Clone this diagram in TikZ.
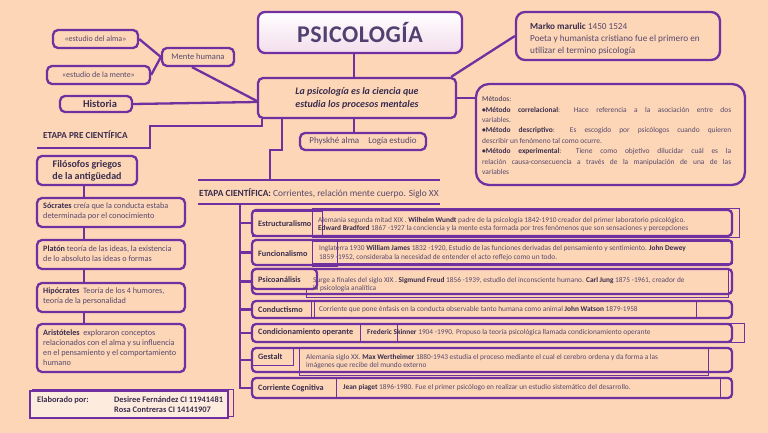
\documentclass[tikz,border=0pt]{standalone}
\usepackage{fontspec}
\setmainfont{Carlito}
\usetikzlibrary{calc}
\definecolor{bg}{RGB}{252,214,183}
\definecolor{pur}{RGB}{112,48,160}
\definecolor{txt}{RGB}{88,72,108}
\definecolor{dk}{RGB}{58,44,78}
\definecolor{ttl}{RGB}{82,64,112}
\definecolor{tfill}{RGB}{243,221,236}
\definecolor{efill}{RGB}{253,236,222}
\newcommand{\fsz}[2]{\fontsize{#1}{#2}\selectfont}
\newcommand{\bn}[1]{\textbf{\color{dk}#1}}
\newcommand{\jl}[1]{\makebox[249pt][s]{#1}}
\tikzset{
 box/.style={draw=pur, line width=2.3pt, rounded corners=5pt, fill=bg, inner sep=0pt, text=txt},
 conn/.style={draw=pur, line width=2.3pt},
 thinbox/.style={draw=pur, line width=0.9pt},
 lbl/.style={anchor=west, inner sep=0pt, text=txt, align=left},
 ctr/.style={inner sep=0pt, text=txt, align=center},
 rowbox/.style={box, rounded corners=4pt, minimum width=480pt},
 rowlbl/.style={lbl, font=\fsz{8.2}{9}\bfseries, text=dk},
 rowtxt/.style={lbl, font=\fsz{7.35}{8.7}},
 coltxt/.style={lbl, font=\fsz{8.2}{10}},
}
\begin{document}
\begin{tikzpicture}[x=1pt,y=-1pt]
\fill[bg] (0,0) rectangle (768,433);
\useasboundingbox (0,0) rectangle (768,433);

% ---------- top-left ----------
\node[box, minimum width=85pt, minimum height=18pt] (alma) at (95.5,39) {};
\node[ctr, font=\fsz{8}{9}] (almat) at (alma.center) {«estudio del alma»};
\node[box, minimum width=103pt, minimum height=18pt] (mente2) at (98.5,75) {};
\node[ctr, font=\fsz{8}{9}] (mente2t) at (mente2.center) {«estudio de la mente»};
\node[box, minimum width=72pt, minimum height=18pt] (mente) at (198,57) {};
\node[ctr, font=\fsz{8.5}{10}] (mentet) at (mente.center) {Mente humana};
\node[box, minimum width=72pt, minimum height=16pt] (hist) at (96,104) {};
\node[ctr, font=\fsz{10.5}{12}\bfseries, text=dk] (histt) at ([xshift=4pt]hist.center) {Historia};
\node[lbl, font=\fsz{9.2}{10}\bfseries, text=dk] (pre) at (43,135) {ETAPA PRE CIENTÍFICA};

% ---------- centre ----------
\node[box, rounded corners=7pt, top color=white, bottom color=tfill, minimum width=204pt, minimum height=41pt] (title) at (360,32.5) {};
\node[ctr, font=\fsz{24}{28}\bfseries\addfontfeatures{LetterSpace=2}, text=ttl] (titlet) at (title.center) {PSICOLOGÍA};
\node[box, minimum width=198pt, minimum height=40pt] (central) at (357,98) {};
\node[ctr, font=\fsz{10}{13}\bfseries\itshape, text=dk] (centraltxt) at (central.center) {La psicología es la ciencia que\\estudia los procesos mentales};
\node[box, minimum width=126pt, minimum height=17pt] (phys) at (363,141.5) {};
\node[ctr, font=\fsz{9}{10}] (physt) at (phys.center) {Physkhé alma\quad Logía estudio};

% ---------- right ----------
\node[box, rounded corners=9pt, minimum width=204pt, minimum height=48pt] (marko) at (618,36) {};
\node[lbl, font=\fsz{9.2}{12}] (markot) at (530,39) {\bn{Marko marulic} 1450 1524\\Poeta y humanista cristiano fue el primero en\\utilizar el termino psicología};
\node[box, rounded corners=13pt, minimum width=269pt, minimum height=101pt] (met) at (610.5,134.5) {};
\node[lbl, font=\fsz{7.45}{10.4}] (mett) at (482,135.5) {{\color{dk}Métodos}:\\
\jl{\bn{•Método correlacional}: Hace referencia a la asociación entre dos}\\
variables.\\
\jl{\bn{•Método descriptivo}: Es escogido por psicólogos cuando quieren}\\
describir un fenómeno tal como ocurre.\\
\jl{\bn{•Método experimental}: Tiene como objetivo dilucidar cuál es la}\\
\jl{relación causa-consecuencia a través de la manipulación de una de las}\\
variables};

% ---------- connectors top ----------
\draw[conn] (alma.east) -- (mente.west);
\draw[conn] (mente2.east) -- (mente.west);
\draw[conn] ([xshift=-6pt]mente.south) -- ([yshift=-3pt]central.west);
\draw[conn] (hist.east) -- ([yshift=-4pt]central.west);
\draw[conn] ([xshift=-3pt]central.north) -- ([xshift=-3pt]central.north |- title.south);
\draw[conn] ([xshift=-3pt]central.south) -- ([xshift=-3pt]central.south |- phys.north);
\draw[conn] ([xshift=-6pt]central.north east) -- (marko.west);
\draw[conn] (central.east) -- (central.east -| met.west);

\coordinate (prejoin) at (150,126);
\coordinate (preend) at (37,148);
\draw[conn] ([xshift=5pt]central.south west) |- (prejoin) |- (preend);

\coordinate (cj) at (270,150);
\coordinate (cend) at (198,180);
\coordinate (cfar) at (440,180);
\draw[conn] ([xshift=25pt]central.south west) |- (cj) -- (cj |- cend);
\draw[conn] (cend) -- (cfar);
\node[lbl, font=\fsz{9.4}{10}] (cient) at (199,193) {\textbf{\color{dk}ETAPA CIENTÍFICA:} Corrientes, relación mente cuerpo. Siglo XX};
\coordinate (u1) at (198,204);
\coordinate (u2) at (440,204);
\draw[conn] (u1) -- (u2);
\coordinate (trunk) at (240,204);

% ---------- left column ----------
\node[box, minimum width=100pt, minimum height=29pt] (filo) at (87,170.5) {};
\node[ctr, font=\fsz{10}{12}\bfseries, text=dk] (filot) at (filo.center) {Filósofos griegos\\de la antigüedad};
\node[box, minimum width=148pt, minimum height=29pt] (socr) at (111,212.5) {};
\node[coltxt] (socrt) at (43,211.5) {\bn{Sócrates} creía que la conducta estaba\\determinada por el conocimiento};
\node[box, minimum width=148pt, minimum height=29pt] (plat) at (111,254.5) {};
\node[coltxt] (platt) at (43,254) {\bn{Platón} teoría de las ideas, la existencia\\de lo absoluto las ideas o formas};
\node[box, minimum width=148pt, minimum height=29pt] (hipo) at (111,297.5) {};
\node[coltxt] (hipot) at (43,296) {\bn{Hipócrates}\ \ Teoría de los 4 humores,\\teoría de la personalidad};
\node[box, minimum width=148pt, minimum height=48pt] (arist) at (111,348) {};
\node[coltxt] (aristt) at (43,348) {\bn{Aristóteles}\ \ exploraron conceptos\\relacionados con el alma y su influencia\\en el pensamiento y el comportamiento\\humano};
\draw[conn] ([xshift=-3pt]filo.south) -- ([xshift=-3pt]filo.south |- socr.north);
\draw[conn] ([xshift=-3pt]socr.south -| filo.south) -- ([xshift=-3pt]plat.north -| filo.south);
\draw[conn] ([xshift=-3pt]plat.south -| filo.south) -- ([xshift=-3pt]hipo.north -| filo.south);
\draw[conn] ([xshift=-3pt]hipo.south -| filo.south) -- ([xshift=-3pt]arist.north -| filo.south);

% ---------- elaborado ----------
\node[thinbox, inner sep=0pt, minimum width=201pt, minimum height=27pt] (elabsh) at (132.5,402.5) {};
\node[draw=pur, line width=2.3pt, fill=efill, inner sep=0pt, minimum width=198pt, minimum height=27pt] (elab) at (129,404.5) {};
\node[lbl, font=\fsz{8.4}{10}\bfseries, text=dk] (elabt) at (37,400) {Elaborado por:};
\node[lbl, font=\fsz{8.4}{10}\bfseries, text=dk] (names) at (114,405) {Desiree Fernández CI 11941481\\Rosa Contreras CI 14141907};

% ---------- rows ----------
% 1
\node[rowbox, minimum height=26pt] (row1) at (492,223) {};
\draw[thinbox] (252,211) rectangle (322,236);
\draw[thinbox] (312,208) rectangle (739,237);
\node[rowlbl] (l1) at (258,224) {Estructuralismo};
\node[rowtxt] (d1) at (318,224.5) {Alemania segunda mitad XIX . \bn{Wilheim Wundt} padre de la psicología 1842-1910 creador del primer laboratorio psicológico.\\\bn{Edward Bradford} 1867 -1927 la conciencia y la mente esta formada por tres fenómenos que son sensaciones y percepciones};
% 2
\node[rowbox, minimum height=25pt] (row2) at (492,252.5) {};
\draw[thinbox] (312,240) rectangle (337,266);
\draw[thinbox] (312,241) rectangle (732,263);
\node[rowlbl] (l2) at (258,254) {Funcionalismo};
\node[rowtxt] (d2) at (319,253) {Inglaterra 1930 \bn{William James} 1832 -1920, Estudio de las funciones derivadas del pensamiento y sentimiento. \bn{John Dewey}\\1859 -1952, consideraba la necesidad de entender el acto reflejo como un todo.};
% 3
\node[rowbox, minimum height=25pt] (row3) at (492,281.5) {};
\draw[thinbox] (306,268) rectangle (728,297);
\node[box, rounded corners=4pt, minimum width=65pt, minimum height=20pt] (row3l) at (284.5,279) {};
\node[rowlbl] (l3) at (258,280) {Psicoanálisis};
\node[rowtxt] (d3) at (313,284.5) {Surge a finales del siglo XIX . \bn{Sigmund Freud} 1856 -1939, estudio del inconsciente humano. \bn{Carl Jung} 1875 -1961, creador de\\la psicología analítica};
% 4
\node[rowbox, minimum height=17pt] (row4) at (492,309.5) {};
\draw[thinbox] (311,301) -- (311,318);
\draw[thinbox] (314,301) rectangle (696,318);
\node[rowlbl] (l4) at (258,309.5) {Conductismo};
\node[rowtxt] (d4) at (319,309.5) {Corriente que pone énfasis en la conducta observable tanto humana como animal \bn{John Watson} 1879-1958};
% 5
\node[rowbox, minimum height=18pt] (row5) at (492,333) {};
\draw[thinbox] (360,324) rectangle (397,342);
\draw[thinbox] (397,323) rectangle (744,342);
\node[rowlbl] (l5) at (258,332.5) {Condicionamiento operante};
\node[rowtxt] (d5) at (367,332.5) {\bn{Frederic Skinner} 1904 -1990. Propuso la teoría psicológica llamada condicionamiento operante};
% 6
\node[rowbox, minimum height=24pt] (row6) at (492,360) {};
\draw[thinbox] (252,348) rectangle (293,365);
\draw[thinbox] (299,348) rectangle (708,375);
\node[rowlbl] (l6) at (258,357) {Gestalt};
\node[rowtxt] (d6) at (306,361.5) {Alemania siglo XX. \bn{Max Wertheimer} 1880-1943 estudia el proceso mediante el cual el cerebro ordena y da forma a las\\imágenes que recibe del mundo externo};
% 7
\node[rowbox, minimum height=20pt] (row7) at (492,388) {};
\draw[thinbox] (336,378) rectangle (720,398);
\node[rowlbl] (l7) at (258,388) {Corriente Cognitiva};
\node[rowtxt] (d7) at (343,387.5) {\bn{Jean piaget} 1896-1980. Fue el primer psicólogo en realizar un estudio sistemático del desarrollo.};

% trunk
\foreach \r in {row1,row2,row3,row4,row5,row6,row7}{
  \draw[conn] (trunk) |- (\r.west);
}
\end{tikzpicture}
\end{document}
